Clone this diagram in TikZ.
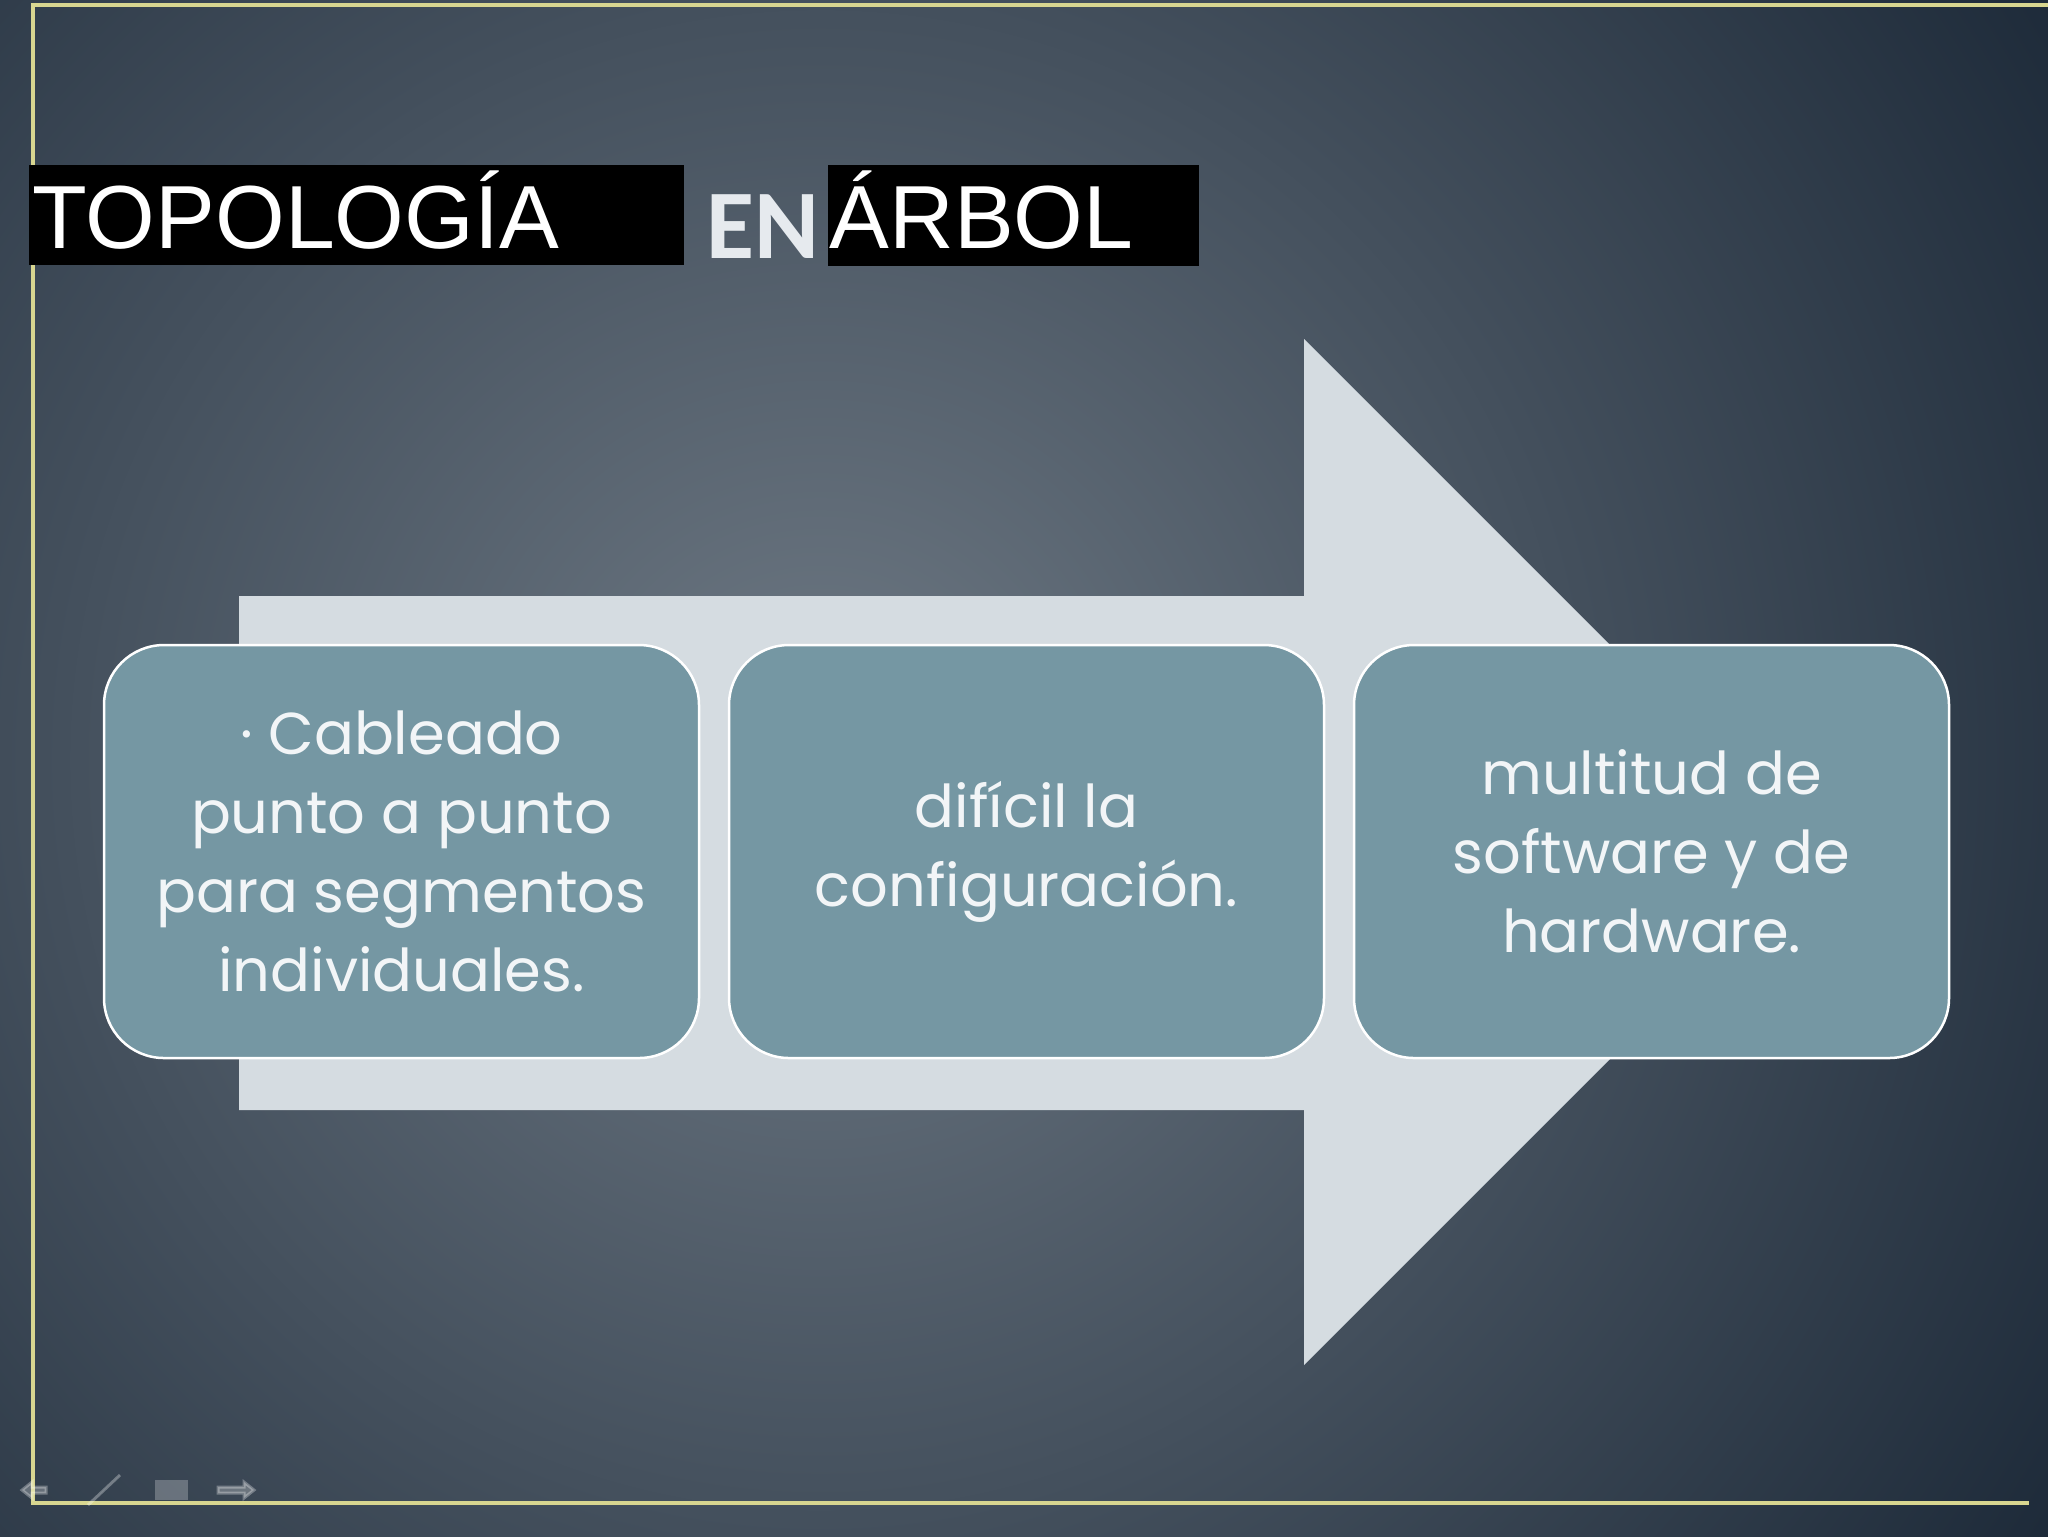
\documentclass[tikz,border=0pt]{standalone}
\usepackage{fontspec}
\setmainfont{Liberation Sans}
\newfontfamily\boxfont{Poppins}
\newfontfamily\enfont{Carlito}
\definecolor{bgouter}{HTML}{1B2837}
\definecolor{bgcenter}{HTML}{6E7984}
\definecolor{framey}{HTML}{D8D690}
\definecolor{arrowgray}{HTML}{D5DCE1}
\definecolor{boxblue}{HTML}{7597A3}
\definecolor{boxtext}{HTML}{F2F5F7}
\definecolor{entext}{HTML}{E6EAEE}
\tikzset{
  stepbox/.style={draw=white, line width=0.25mm, fill=boxblue, rounded corners=6mm,
    minimum width=59.5mm, minimum height=41.3mm, inner sep=0pt, align=center,
    text=boxtext, font=\boxfont\fontsize{16.8}{22.5}\selectfont},
  titletext/.style={anchor=base west, inner sep=0pt, text=white,
    font=\fontsize{25.5}{30}\selectfont},
  navicon/.style={draw=white, draw opacity=0.3, fill=white, fill opacity=0.25, line width=0.3mm}
}
\begin{document}
\begin{tikzpicture}[x=0.1mm,y=-0.1mm]
\useasboundingbox (0,0) rectangle (2048,1536);
% background
\fill[bgouter] (0,0) rectangle (2048,1536);
\begin{scope}
  \clip (0,0) rectangle (2048,1536);
  \shade[inner color=bgcenter, outer color=bgouter] (820,760) ellipse [x radius=1500, y radius=1500];
\end{scope}
% frame
\draw[framey, line width=0.45mm] (2048,5) -- (33,5) -- (33,1503) -- (2029,1503);
% title
\fill[black] (29,165) rectangle (684,265);
\fill[black] (828,165) rectangle (1199,266);
\node[titletext] (t1) at (32,248) {TOPOLOGÍA};
\node[anchor=base west, inner sep=0pt, text=entext, font=\enfont\bfseries\fontsize{28}{32}\selectfont] (en) at (706,258) {EN};
\node[titletext] (t2) at (829,248) {ÁRBOL};
% big arrow
\fill[arrowgray] (239,596) -- (1304,596) -- (1304,339) -- (1817,852) -- (1304,1365) -- (1304,1110) -- (239,1110) -- cycle;
% boxes
\node[stepbox] (b1) at (401.5,851.5) {· Cableado\\punto a punto\\para segmentos\\individuales.};
\node[stepbox] (b2) at (1026.5,851.5) {difícil la\\configuración.};
\node[stepbox] (b3) at (1651.5,851.5) {multitud de\\software y de\\hardware.};
% faint slide navigation icons
\draw[navicon] (22,1490) -- (32,1482) -- (32,1487) -- (46,1487) -- (46,1493) -- (32,1493) -- (32,1498) -- cycle;
\draw[navicon] (88,1505) -- (120,1475);
\fill[white, opacity=0.25] (155,1480) rectangle (188,1500);
\draw[navicon] (254,1490) -- (244,1482) -- (244,1487) -- (218,1487) -- (218,1493) -- (244,1493) -- (244,1498) -- cycle;
\end{tikzpicture}
\end{document}
